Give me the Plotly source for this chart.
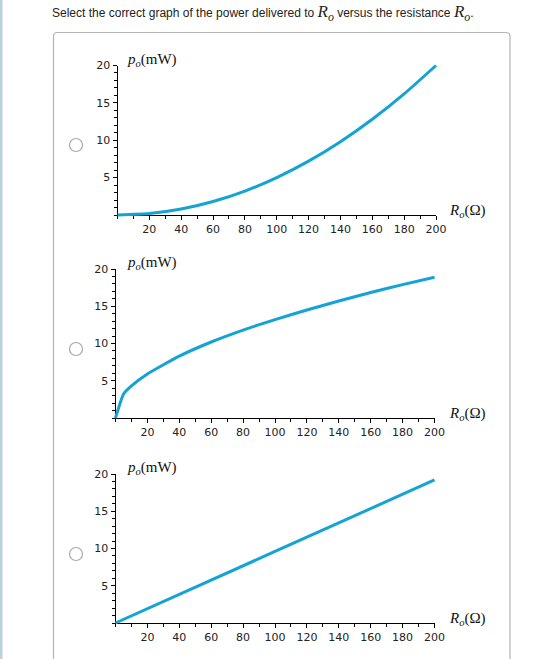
import plotly.graph_objects as go

W, H = 557, 659

# values
r_quad = [0, 20, 40, 60, 80, 100, 120, 140, 160, 180, 200]
p_quad = [0, 0.2, 0.8, 1.8, 3.2, 5.0, 7.2, 9.8, 12.8, 16.2, 20.0]

r_root = [0, 5, 10, 20, 40, 60, 80, 100, 120, 140, 160, 180, 200]
p_root = [0, 3.2, 4.3, 5.9, 8.3, 10.2, 11.8, 13.2, 14.5, 15.7, 16.85, 17.9, 18.9]

r_lin = [0, 100, 200]
p_lin = [0, 9.6, 19.2]

x_ticks = [20, 40, 60, 80, 100, 120, 140, 160, 180, 200]
y_ticks = [5, 10, 15, 20]

# pixel boxes of each panel: (x at 0, x at 200, y at 0, y at 20)
panels = [
    (r_quad, p_quad, (117.5, 436, 215, 65.5)),
    (r_root, p_root, (115.5, 434.5, 418, 269)),
    (r_lin, p_lin, (115.5, 434.5, 623, 474)),
]
radio_y = [145, 349, 554]

BLUE = "#13a3d5"
TICK_FONT = dict(family="DejaVu Sans", size=11, color="#222")
PAD = 4  # px of room around each curve so its stroke is not clipped at the axes


def px(x):
    return x / W


def py(y):
    return 1 - y / H


fig = go.Figure()
layout = dict(
    width=W, height=H,
    margin=dict(l=0, r=0, t=0, b=0, autoexpand=False),
    paper_bgcolor="white", plot_bgcolor="rgba(0,0,0,0)",
    showlegend=False,
)
shapes = []
annotations = []

for i, (rx, py_vals, (x0, x1, y0, y1)) in enumerate(panels):
    n = i + 1   # visible axes
    k = i + 4   # overlay axes for inner tick halves
    t = i + 7   # hidden axes that carry the curve
    common = dict(showgrid=False, zeroline=False, fixedrange=True, automargin=False,
                  layer="below traces", tickcolor="black", tickwidth=1, tickangle=0)
    layout[f"xaxis{n}"] = dict(
        domain=[px(x0), px(x1)], range=[0, 200], anchor=f"y{n}",
        showline=True, linecolor="black", linewidth=1,
        tickmode="array", tickvals=x_ticks, ticks="outside", ticklen=4,
        tickfont=TICK_FONT,
        minor=dict(dtick=10, ticks="outside", ticklen=2.5, tickcolor="black"),
        **common)
    layout[f"yaxis{n}"] = dict(
        domain=[py(y0), py(y1)], range=[0, 20], anchor=f"x{n}",
        showline=True, linecolor="black", linewidth=1,
        tickmode="array", tickvals=y_ticks, ticks="outside", ticklen=4,
        tickfont=TICK_FONT,
        minor=dict(dtick=1, ticks="outside", ticklen=2.5, tickcolor="black"),
        **common)
    layout[f"xaxis{k}"] = dict(
        overlaying=f"x{n}", anchor=f"y{n}", side="bottom", range=[0, 200],
        tickmode="array", tickvals=x_ticks, ticks="inside", ticklen=4,
        showticklabels=False,
        minor=dict(dtick=10, ticks="inside", ticklen=2.5, tickcolor="black"),
        **common)
    layout[f"yaxis{k}"] = dict(
        overlaying=f"y{n}", anchor=f"x{n}", side="left", range=[0, 20],
        tickmode="array", tickvals=y_ticks, ticks="inside", ticklen=4,
        showticklabels=False,
        minor=dict(dtick=1, ticks="inside", ticklen=2.5, tickcolor="black"),
        **common)

    # same scale as the visible axes, a few px larger so the stroke is whole
    sx = (x1 - x0) / 200
    sy = (y0 - y1) / 20
    layout[f"xaxis{t}"] = dict(
        domain=[px(x0 - PAD), px(x1 + PAD)], range=[-PAD / sx, 200 + PAD / sx],
        anchor=f"y{t}", visible=False, fixedrange=True)
    layout[f"yaxis{t}"] = dict(
        domain=[py(y0 + PAD), py(y1 - PAD)], range=[-PAD / sy, 20 + PAD / sy],
        anchor=f"x{t}", visible=False, fixedrange=True)
    fig.add_trace(go.Scatter(
        x=rx, y=py_vals, mode="lines",
        line=dict(color=BLUE, width=3, shape="spline", smoothing=0.5),
        xaxis=f"x{t}", yaxis=f"y{t}",
    ))
    # empty trace so the visible axes are drawn
    fig.add_trace(go.Scatter(x=[], y=[], xaxis=f"x{n}", yaxis=f"y{n}"))

    annotations.append(dict(
        text="<i>p</i><sub><i>o</i></sub>(mW)", x=px(125), y=py(y1 - 6),
        xref="paper", yref="paper", xanchor="left", yanchor="middle",
        showarrow=False, font=dict(family="Liberation Serif", size=15, color="#111")))
    annotations.append(dict(
        text="<i>R</i><sub><i>o</i></sub>(Ω)", x=px(447), y=py(y0 - 4),
        xref="paper", yref="paper", xanchor="left", yanchor="middle",
        showarrow=False, font=dict(family="Liberation Serif", size=15, color="#111")))

    shapes.append(dict(
        type="circle", xref="paper", yref="paper",
        x0=px(69.5), x1=px(82.5), y0=py(radio_y[i] + 6.5), y1=py(radio_y[i] - 6.5),
        line=dict(color="#a8a8a8", width=1.2), fillcolor="white"))

# question text
annotations.append(dict(
    text="Select the correct graph of the power delivered to "
         "<span style='font-family:Liberation Serif;font-size:17px'><i>R</i><sub><i>o</i></sub></span>"
         " versus the resistance "
         "<span style='font-family:Liberation Serif;font-size:17px'><i>R</i><sub><i>o</i></sub></span>.",
    x=px(50), y=py(13), xref="paper", yref="paper", xanchor="left", yanchor="middle",
    showarrow=False, font=dict(family="Liberation Sans", size=12, color="#222")))

# answer box and left page strip
shapes.append(dict(
    type="path", xref="paper", yref="paper", layer="below",
    path=f"M {px(53.5)},{py(662)} L {px(53.5)},{py(36.5)} "
         f"Q {px(53.5)},{py(32.5)} {px(57.5)},{py(32.5)} "
         f"L {px(506)},{py(32.5)} Q {px(510)},{py(32.5)} {px(510)},{py(36.5)} "
         f"L {px(510)},{py(662)}",
    line=dict(color="#b4b4b4", width=1.2)))
shapes.append(dict(
    type="rect", xref="paper", yref="paper", layer="below",
    x0=0, x1=px(2.5), y0=0, y1=1,
    line=dict(width=0), fillcolor="#bcd0e2"))

layout["shapes"] = shapes
layout["annotations"] = annotations
fig.update_layout(**layout)

fig.write_html(
    "out.html",
    config={"displayModeBar": False},
    post_script="document.body.style.margin='0';",
)
